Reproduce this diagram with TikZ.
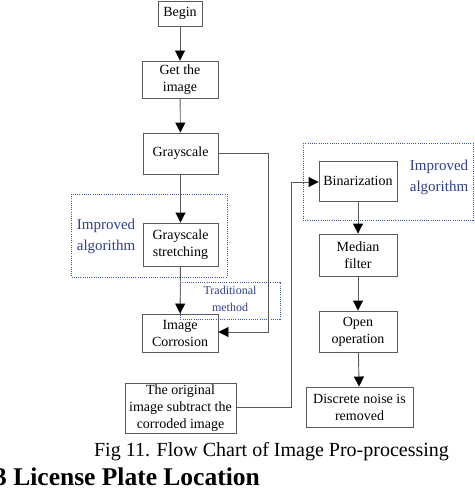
\documentclass[tikz,border=0pt]{standalone}
\usepackage{fontspec}
\setmainfont{Liberation Serif}
\usetikzlibrary{arrows.meta}
\definecolor{boxgray}{HTML}{5A5A5A}
\definecolor{algblue}{HTML}{2E3F8C}
\definecolor{dotblue}{HTML}{3A55B0}
\begin{document}
\begin{tikzpicture}[x=1pt,y=1pt,
  fbox/.style={draw=boxgray,line width=0.9pt,rectangle,inner sep=0pt,align=center,
    font=\fontsize{14}{17}\selectfont},
  conn/.style={draw=boxgray,line width=0.9pt,-{Triangle[width=10pt,length=10pt,black]}},
  plain/.style={draw=boxgray,line width=0.9pt},
  dotbox/.style={draw=dotblue,line width=1pt,dash pattern=on 1pt off 1.2pt},
  bluetext/.style={text=algblue,align=center,inner sep=0pt}
]
\useasboundingbox (0,0) rectangle (474,-503);
\clip (0,0) rectangle (474,-503);
% dotted regions
\draw[dotbox] (71,-194) rectangle (227,-277);
\draw[dotbox] (180,-282) rectangle (280,-319);
\draw[dotbox] (303,-143) rectangle (473,-220);
% boxes
\node[fbox,minimum width=44,minimum height=25] (begin) at (180,-13.5) {Begin};
\node[fbox,minimum width=76,minimum height=37] (get) at (180,-79.5) {Get the\\image};
\node[fbox,minimum width=75,minimum height=41] (gray) at (180.5,-153.5) {Grayscale};
\node[fbox,minimum width=75,minimum height=43] (stretch) at (180.5,-244.5) {Grayscale\\stretching};
\node[fbox,minimum width=76,minimum height=38] (corr) at (180,-333) {Image\\Corrosion};
\node[fbox,minimum width=111,minimum height=50] (orig) at (180.5,-408) {The original\\image subtract the\\corroded image};
\node[fbox,minimum width=78,minimum height=40] (bin) at (358,-181) {Binarization};
\node[fbox,minimum width=78,minimum height=42] (med) at (358,-255) {Median\\filter};
\node[fbox,minimum width=78,minimum height=41] (open) at (358,-331.5) {Open\\operation};
\node[fbox,minimum width=107,minimum height=40] (disc) at (359.5,-407) {Discrete noise is\\removed};
% labels
\node[bluetext,font=\fontsize{15}{21}\selectfont] (imp1) at (106,-236) {Improved\\algorithm};
\node[bluetext,font=\fontsize{12}{17}\selectfont] (trad) at (230,-298.5) {Traditional\\method};
\node[bluetext,font=\fontsize{15}{21}\selectfont] (imp2) at (439,-177) {Improved\\algorithm};
% connectors
\draw[conn] (begin) -- (get);
\draw[conn] (get) -- (gray);
\draw[conn] (gray) -- (stretch);
\draw[conn] (stretch) -- (corr);
\coordinate (g1) at (268,-153);
\coordinate (g2) at (268,-332);
\draw[conn] (gray.east |- g1) -- (g1) -- (g2) -- (corr.east |- g2);
\coordinate (o1) at (291,-407);
\coordinate (o2) at (291,-182);
\draw[conn] (orig.east |- o1) -- (o1) -- (o2) -- (bin.west |- o2);
\draw[conn] (bin) -- (med);
\draw[conn] (med) -- (open);
\draw[conn] (open) -- (disc);
% caption
\node[inner sep=0pt,anchor=base,font=\fontsize{20}{23}\selectfont] (cap) at (271.5,-456) {Fig 11. Flow Chart of Image Pro-processing};
\node[inner sep=0pt,anchor=base east,font=\fontsize{25.5}{29}\selectfont\bfseries] (sec) at (260,-485) {3 License Plate Location};
\end{tikzpicture}
\end{document}
